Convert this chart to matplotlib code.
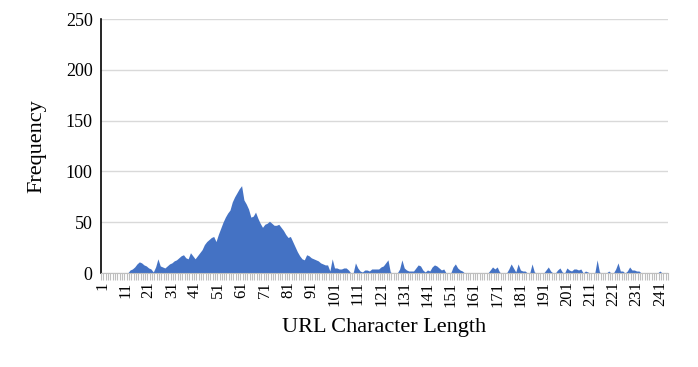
import matplotlib.pyplot as plt
import numpy as np

plt.rcParams['font.family'] = ['Liberation Serif', 'DejaVu Serif']

# frequency per URL length (categories 1..244)
lengths = np.arange(1, 245)
freq = [0] * 12 + [
    3, 4, 6, 9, 11, 10, 8, 7, 5, 4,            # 13-22
    1, 6, 14, 7, 6, 5, 7, 9, 10, 12,           # 23-32
    13, 15, 17, 18, 15, 14, 20, 17, 14, 17,    # 33-42
    20, 23, 28, 31, 33, 35, 36, 31, 38, 44,    # 43-52
    50, 55, 59, 62, 70, 75, 79, 83, 86, 72,    # 53-62
    68, 63, 55, 56, 60, 54, 49, 45, 48, 49,    # 63-72
    51, 49, 47, 47, 48, 45, 42, 38, 35, 36,    # 73-82
    31, 26, 21, 17, 14, 13, 18, 17, 15, 14,    # 83-92
    13, 12, 10, 9, 8, 8, 2, 14, 5, 5,          # 93-102
    4, 4, 5, 5, 3, 0, 0, 10, 5, 2,             # 103-112
    1, 3, 3, 2, 4, 4, 4, 4, 6, 7,              # 113-122
    10, 13, 1, 0, 0, 0, 4, 13, 5, 3,           # 123-132
    2, 2, 2, 5, 8, 7, 3, 1, 3, 2,              # 133-142
    6, 8, 7, 5, 3, 4, 0, 0, 0, 6,              # 143-152
    9, 5, 3, 2, 0, 0, 0, 0, 0, 0,              # 153-162
    0, 0, 0, 0, 0, 3, 6, 4, 6, 1,              # 163-172
    0, 0, 0, 4, 9, 5, 1, 9, 3, 2,              # 173-182
    2, 0, 0, 9, 1, 0, 0, 0, 0, 3,              # 183-192
    6, 2, 0, 0, 3, 5, 1, 0, 5, 3,              # 193-202
    2, 4, 4, 3, 4, 0, 2, 1, 0, 0,              # 203-212
    0, 13, 1, 0, 0, 0, 2, 0, 0, 4,             # 213-222
    10, 2, 2, 0, 2, 6, 3, 3, 2, 2,             # 223-232
    0, 0, 0, 0, 0, 0, 0, 0, 2, 0,              # 233-242
    0, 0,                                      # 243-244
]
yticks = [0, 50, 100, 150, 200, 250]

fig = plt.figure(figsize=(6.98, 3.67), dpi=100)
ax = fig.add_axes([0.1447, 0.256, 0.8123, 0.692])

ax.fill_between(lengths, freq, 0, color="#4472C4", linewidth=0, zorder=2)

ax.set_xlim(0.5, 244.5)
ax.set_ylim(0, 250)
ax.set_yticks(yticks)
ax.grid(axis="y", color="#D9D9D9", linewidth=1, zorder=0)

ax.set_xticks(lengths[::10])
ax.set_xticklabels([str(v) for v in lengths[::10]], rotation=90)
ax.set_xticks(np.arange(0.5, 245, 1), minor=True)
ax.tick_params(axis="x", which="major", length=0, labelsize=12, pad=6)
ax.tick_params(axis="x", which="minor", length=5, color="#BFBFBF", width=0.8)
ax.tick_params(axis="y", length=0, labelsize=13, pad=6)

for s in ["top", "right"]:
    ax.spines[s].set_visible(False)
ax.spines["left"].set_color("#000000")
ax.spines["left"].set_linewidth(1.2)
ax.spines["bottom"].set_color("#BFBFBF")

ax.set_ylabel("Frequency", fontsize=16, labelpad=14)
ax.set_xlabel("URL Character Length", fontsize=16, labelpad=8)

plt.savefig("out.png", dpi=100)
